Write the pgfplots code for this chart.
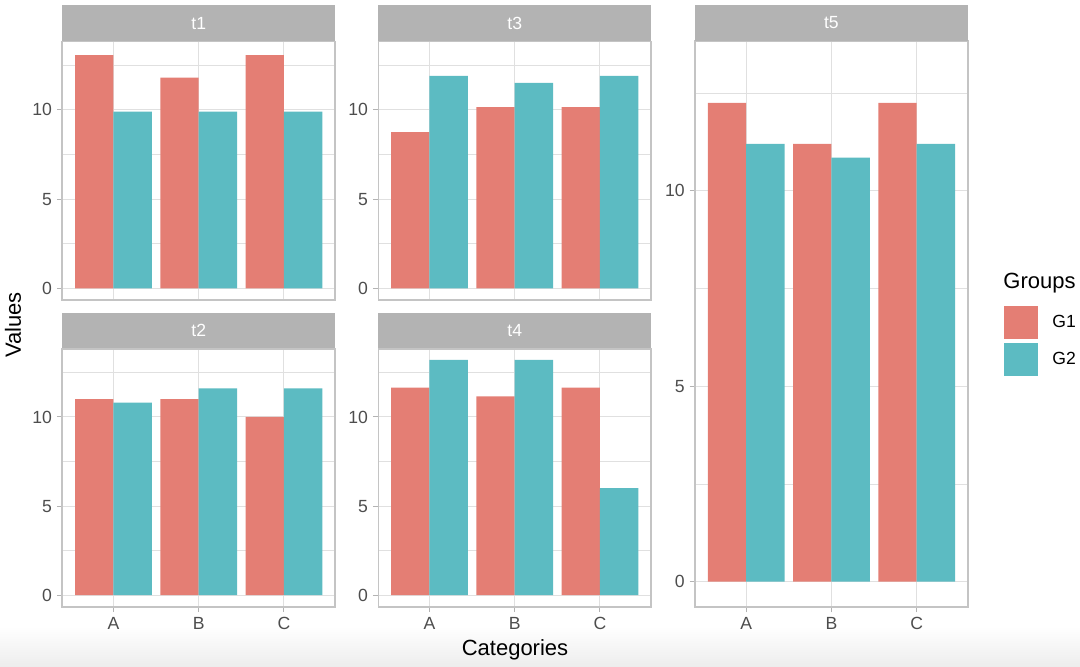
\documentclass[border=0pt]{standalone}
\usepackage{pgfplots}
\pgfplotsset{compat=1.18}
\usepackage{pgfplotstable}
\usepackage{fontspec}
\setmainfont{Liberation Sans}

\definecolor{gone}{HTML}{E47E74}
\definecolor{gtwo}{HTML}{5CBBC2}
\definecolor{grey70}{HTML}{B3B3B3}
\definecolor{border}{HTML}{C4C4C4}
\definecolor{grey87}{HTML}{E0E0E0}
\definecolor{grey30}{HTML}{4D4D4D}

% values per facet: x = category (A=1, B=2, C=3)
\pgfplotstableread{
x g1 g2
1 13.05 9.9
2 11.8 9.9
3 13.05 9.9
}\tone
\pgfplotstableread{
x g1 g2
1 11.0 10.8
2 11.0 11.6
3 10.0 11.6
}\ttwo
\pgfplotstableread{
x g1 g2
1 8.75 11.9
2 10.15 11.5
3 10.15 11.9
}\tthree
\pgfplotstableread{
x g1 g2
1 11.65 13.2
2 11.15 13.2
3 11.65 6.0
}\tfour
\pgfplotstableread{
x g1 g2
1 12.25 11.2
2 11.2 10.85
3 12.25 11.2
}\tfive

\pgfplotsset{
  facet/.style={
    scale only axis,
    width=136.4pt,
    xmin=0.4, xmax=3.6,
    ymin=-0.65, ymax=13.83,
    xtick={1,2,3},
    ytick={0,5,10},
    minor ytick={2.5,7.5,12.5},
    grid=both,
    major grid style={draw=grey87, line width=0.53pt},
    minor grid style={draw=grey87, line width=0.27pt},
    axis line style={draw=border, line width=0.8pt},
    tick style={draw=grey70, line width=0.53pt},
    tick align=outside,
    tick pos=left,
    major tick length=2.75pt,
    minor tick length=0pt,
    /pgf/number format/assume math mode=true,
    tick label style={font=\fontsize{8.8}{10}\selectfont, text=grey30},
    yticklabel style={inner sep=0pt, xshift=-2.2pt},
    xticklabel style={inner sep=0pt, yshift=-2.2pt},
    title={#1},
    every axis title shift=0pt,
    title style={at={(0.5,1)}, anchor=south, fill=grey70, text=white,
      minimum width=136.4pt, minimum height=17.8pt, inner sep=0pt,
      font=\fontsize{8.8}{10}\selectfont},
  },
  toprow/.style={xticklabels={}, xtick style={draw=none}},
  botrow/.style={xticklabels={A,B,C}},
  gbar/.style={ybar, bar width=0.45, draw=none},
}

\begin{document}
\begin{tikzpicture}
\path[use as bounding box] (0,0) rectangle (540pt,333pt);
\shade[top color=white, bottom color=black!7] (0,0) rectangle (540pt,20pt);

\begin{axis}[facet=t1, toprow, height=129.35pt, at={(31.15pt,183pt)}, anchor=south west]
\addplot[gbar, bar shift=-0.225, fill=gone] table[x=x, y=g1] {\tone};
\addplot[gbar, bar shift=0.225, fill=gtwo] table[x=x, y=g2] {\tone};
\end{axis}

\begin{axis}[facet=t3, toprow, height=129.35pt, at={(189.15pt,183pt)}, anchor=south west]
\addplot[gbar, bar shift=-0.225, fill=gone] table[x=x, y=g1] {\tthree};
\addplot[gbar, bar shift=0.225, fill=gtwo] table[x=x, y=g2] {\tthree};
\end{axis}

\begin{axis}[facet=t2, botrow, height=129pt, at={(31.15pt,29.65pt)}, anchor=south west]
\addplot[gbar, bar shift=-0.225, fill=gone] table[x=x, y=g1] {\ttwo};
\addplot[gbar, bar shift=0.225, fill=gtwo] table[x=x, y=g2] {\ttwo};
\end{axis}

\begin{axis}[facet=t4, botrow, height=129pt, at={(189.15pt,29.65pt)}, anchor=south west]
\addplot[gbar, bar shift=-0.225, fill=gone] table[x=x, y=g1] {\tfour};
\addplot[gbar, bar shift=0.225, fill=gtwo] table[x=x, y=g2] {\tfour};
\end{axis}

\begin{axis}[facet=t5, botrow, height=282.85pt, at={(347.5pt,29.55pt)}, anchor=south west,
  legend style={at={(1.133,0.532)}, anchor=north west, draw=none, fill=none,
    inner sep=0pt, row sep=2pt, column sep=7pt,
    nodes={inner sep=0pt, font=\fontsize{8.8}{10}\selectfont}},
  legend cell align=left]
\addplot[gbar, bar shift=-0.225, fill=gone,
  legend image code/.code={\fill[gone] (0pt,-8.25pt) rectangle (17pt,8.25pt);}]
  table[x=x, y=g1] {\tfive};
\addplot[gbar, bar shift=0.225, fill=gtwo,
  legend image code/.code={\fill[gtwo] (0pt,-8.25pt) rectangle (17pt,8.25pt);}]
  table[x=x, y=g2] {\tfive};
\legend{G1, G2}
\end{axis}

\node[anchor=west, font=\fontsize{11}{13}\selectfont, inner sep=0pt] at (501.5pt,191.5pt) {Groups};
\node[font=\fontsize{11}{13}\selectfont, inner sep=0pt] at (257.5pt,8pt) {Categories};
\node[rotate=90, font=\fontsize{11}{13}\selectfont, inner sep=0pt] at (6.5pt,170.5pt) {Values};
\end{tikzpicture}
\end{document}
